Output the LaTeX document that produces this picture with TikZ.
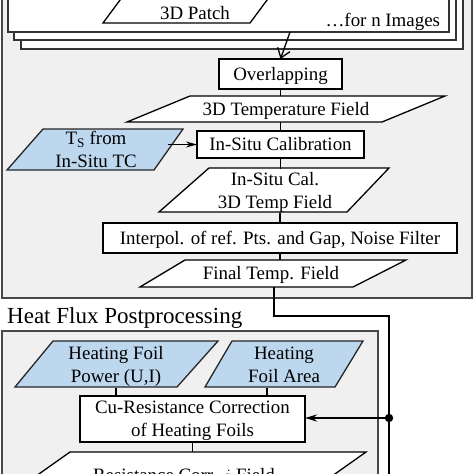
\documentclass[tikz,border=0pt]{standalone}
\usepackage{fontspec}
\setmainfont{Liberation Serif}
\usetikzlibrary{arrows.meta,calc}
\definecolor{panelgray}{RGB}{240,240,240}
\definecolor{paneledge}{RGB}{72,72,72}
\definecolor{inblue}{RGB}{189,215,238}
\tikzset{
  body/.style={font=\fontsize{18.9}{22.8}\selectfont, align=center, inner sep=0pt, outer sep=0pt},
  oneline/.style={body, text height=12.5pt, text depth=0pt},
  twoline/.style={body, text height=35.3pt, text depth=0pt},
  procbox/.style={oneline, draw=black, fill=white, line width=1.3pt},
  procbox2/.style={twoline, draw=black, fill=white, line width=1.3pt},
  outshape/.style={draw=black, fill=white, line width=1.3pt, line join=miter},
  inshape/.style={draw=black!85, fill=inblue, line width=1.3pt, line join=miter},
  sheet/.style={draw=black!80, fill=white, line width=1.3pt},
  panel/.style={fill=panelgray, draw=paneledge, line width=2pt},
  link/.style={line width=1.3pt},
  mainlink/.style={line width=2.6pt},
  feedlink/.style={line width=2pt},
  titletext/.style={font=\fontsize{23}{27}\selectfont, inner sep=0pt},
}
\begin{document}
\begin{tikzpicture}[x=1pt,y=-1pt]
\useasboundingbox (0,0) rectangle (474,474);
\clip (0,0) rectangle (474,474);
\fill[white] (0,0) rectangle (474,474);

% ---- top panel ----
\draw[panel] (2,-20) rectangle (472,298);
\draw[sheet] (21,-20) rectangle (463,49);
\draw[sheet] (14,-20) rectangle (456,40);
\draw[sheet] (8,-20) rectangle (449,32);
\draw[outshape] (103,23) -- (126,-8) -- (273,-8) -- (250,23) -- cycle;
\node[oneline] (patch) at (195,13) {3D Patch};
\node[body, anchor=base east] (forn) at (440,26) {…for n Images};
\coordinate (stackout) at (290,32);

\node[procbox, minimum width=123pt, minimum height=30pt] (ov) at (280.5,74) {Overlapping};

\draw[outshape] (127,122) -- (190,96) -- (445,96) -- (382,122) -- cycle;
\node[oneline, minimum width=255pt, minimum height=26pt] (tf) at (286,109) {3D Temperature Field};

\node[procbox, minimum width=167pt, minimum height=27pt] (cal) at (280.5,144.5) {In-Situ Calibration};

\draw[inshape] (7,170) -- (43,129) -- (183,129) -- (154,170) -- cycle;
\node[twoline, minimum width=143pt, minimum height=41pt] (ts) at (96,150) {T\textsubscript{S} from\\In-Situ TC};

\draw[outshape] (159,212) -- (209,168) -- (389,168) -- (347,212) -- cycle;
\node[twoline, minimum width=184pt, minimum height=44pt] (calf) at (275,191) {In-Situ Cal.\\3D Temp Field};

\node[procbox, minimum width=354pt, minimum height=30pt] (ip) at (280,238) {Interpol. of ref. Pts. and Gap, Noise Filter};

\draw[outshape] (140,287) -- (185,260) -- (406,260) -- (353,287) -- cycle;
\node[oneline, minimum width=217pt, minimum height=27pt] (final) at (271,273.5) {Final Temp. Field};

% connectors in top panel
\draw[link, -{Straight Barb[length=9pt,width=13pt]}] (stackout) -- (ov.north);
\draw[link] (ov.south) -- (ov.south |- tf.north);
\draw[link] (cal.north |- tf.south) -- (cal.north);
\draw[link, -{Stealth[length=11pt,width=6pt]}] (ts.east |- cal.west) -- (cal.west);
\draw[link] (cal.south) -- (cal.south |- calf.north);
\draw[link] (ip.north |- calf.south) -- (ip.north);
\draw[link] (ip.south) -- (ip.south |- final.north);

% ---- heat flux panel ----
\node[titletext, anchor=base west] (title) at (7,323) {Heat Flux Postprocessing};
\draw[panel] (2,331) rectangle (378,520);

\draw[inshape] (15,387) -- (53,341) -- (218,341) -- (177,387) -- cycle;
\node[twoline, minimum width=164pt, minimum height=46pt] (fp) at (116,365) {Heating Foil\\Power (U,I)};

\draw[inshape] (205,387) -- (232,341) -- (363,341) -- (335,387) -- cycle;
\node[twoline, minimum width=130pt, minimum height=46pt] (fa) at (284,365) {Heating\\Foil Area};

\node[procbox2, minimum width=225pt, minimum height=46pt] (cu) at (192.5,419) {Cu-Resistance Correction\\of Heating Foils};

\draw[outshape] (5,498) -- (70,452) -- (366,452) -- (301,498) -- cycle;
\node[oneline, minimum width=296pt, minimum height=46pt] (res) at (184,475) {Resistance Corr. $\dot{q}$ Field};

\draw[link] (fp.south) -- (fp.south |- cu.north);
\draw[link] ([xshift=-17pt]fa.south) -- ([xshift=-17pt]fa.south |- cu.north);
\draw[link] (cu.south) -- (cu.south |- res.north);

% main temperature link and feed to correction
\coordinate (bendA) at (274,316);
\coordinate (bendB) at (389,316);
\coordinate (junction) at (389,418);
\coordinate (downend) at (389,520);
\draw[mainlink, line join=miter] (final.south -| bendA) -- (bendA) -- (bendB) -- (downend);
\fill (junction) circle (4.2);
\draw[feedlink, -{Stealth[length=12pt,width=7pt]}] (junction) -- (cu.east |- junction);
\end{tikzpicture}
\end{document}
